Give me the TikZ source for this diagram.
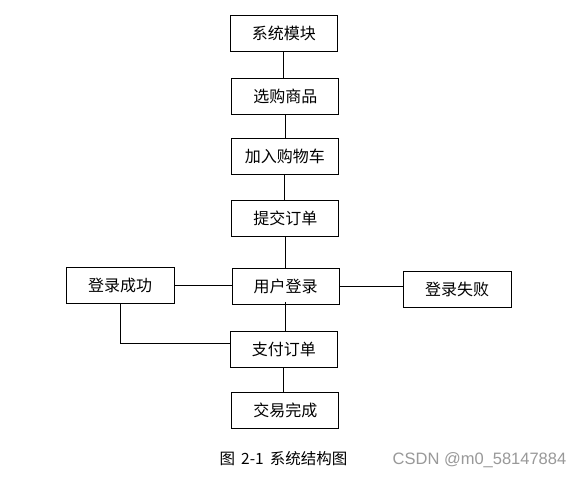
\documentclass[tikz,border=0pt]{standalone}
\usepackage{fontspec}
\newfontfamily\cjk{Noto Sans CJK SC}
\newfontfamily\wm{Liberation Sans}
\begin{document}
\begin{tikzpicture}[x=1pt,y=-1pt,
  box/.style={draw,line width=0.9pt,minimum width=107pt,minimum height=36pt,inner sep=0pt,font=\cjk\fontsize{16}{16}\selectfont},
  conn/.style={line width=0.9pt}]
\useasboundingbox[fill=white] (0,0) rectangle (583,477);
\node[box] (m1) at (283.8,33.7) {系统模块};
\node[box] (m2) at (285.3,96.3) {选购商品};
\node[box] (m3) at (284.8,156.8) {加入购物车};
\node[box] (m4) at (285.3,218.2) {提交订单};
\node[box] (m5) at (285.7,286.2) {用户登录};
\node[box,minimum width=108pt] (s) at (120,285) {登录成功};
\node[box,minimum width=108pt] (f) at (457.2,289.2) {登录失败};
\node[box] (m6) at (283.8,349.2) {支付订单};
\node[box] (m7) at (285.3,410.5) {交易完成};
\node[font=\cjk\fontsize{15.5}{15.5}\selectfont] (cap) at (283.5,459) {图\hspace{6pt}2-1\hspace{6pt}系统结构图};
\node[font=\wm\fontsize{16.5}{16.5}\selectfont,text=black!40] (wmk) at (479.5,460) {CSDN @m0\_58147884};
\draw[conn] (m1.south) -- (m1.south |- m2.north);
\draw[conn] (m2.south) -- (m2.south |- m3.north);
\draw[conn] (m3.south) -- (m3.south |- m4.north);
\draw[conn] (m4.south) -- (m4.south |- m5.north);
\draw[conn] ([yshift=2.5pt]m5.south) -- (m5.south |- m6.north);
\draw[conn] (m6.south) -- (m6.south |- m7.north);
\draw[conn] (s.east) -- (s.east -| m5.west);
\draw[conn] (m5.east) -- (m5.east -| f.west);
\draw[conn] (s.south) |- ([yshift=6pt]m6.west);
\end{tikzpicture}
\end{document}
